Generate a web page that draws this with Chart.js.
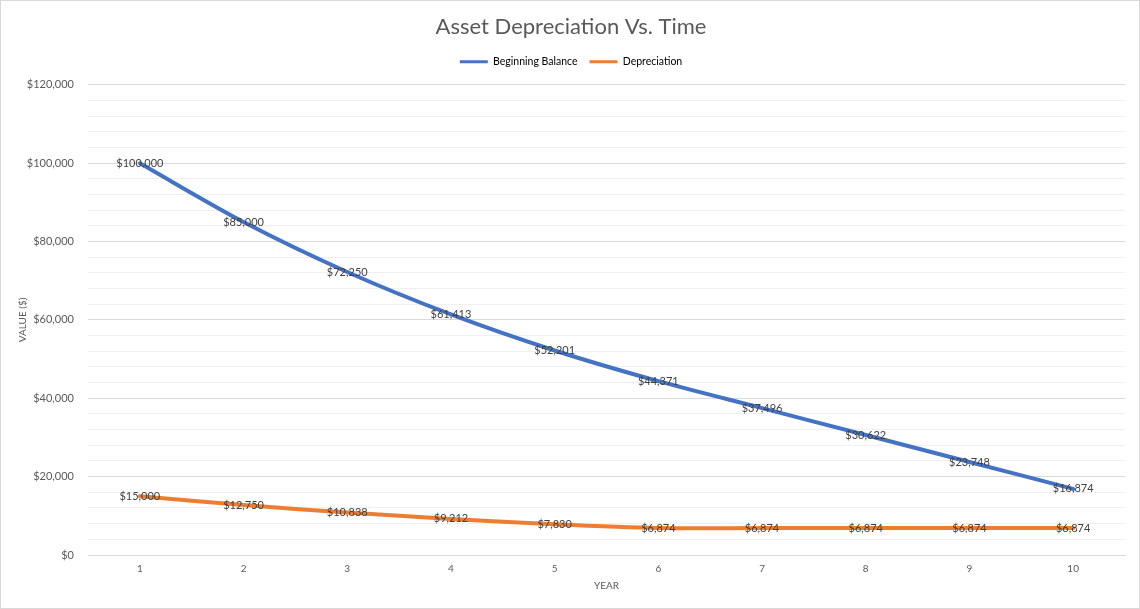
<!DOCTYPE html>
<html>
<head>
<meta charset="utf-8">
<script src="https://cdn.jsdelivr.net/npm/chart.js@4"></script>
<style>
html,body{margin:0;padding:0;background:#fff;}
#wrap{position:absolute;left:0;top:0;width:1138px;height:607px;border:1px solid #d9d9d9;}
</style>
</head>
<body>
<div id="wrap"><canvas id="c" width="1138" height="607"></canvas></div>
<script>
const years = ['1','2','3','4','5','6','7','8','9','10'];
const beginningBalance = [100000, 85000, 72250, 61413, 52201, 44371, 37496, 30622, 23748, 16874];
const depreciation = [15000, 12750, 10838, 9212, 7830, 6874, 6874, 6874, 6874, 6874];
const seriesNames = ['Beginning Balance', 'Depreciation'];
const yMin = 0, yMax = 120000, yStep = 4000, yLabelStep = 20000;

const FONT = 'Lato, "Liberation Sans", sans-serif';
const fmt = v => '$' + Math.round(v).toLocaleString('en-US');

const dataLabels = {
  id: 'dataLabels',
  afterDatasetsDraw(chart) {
    const ctx = chart.ctx;
    ctx.save();
    ctx.font = '11px ' + FONT;
    ctx.fillStyle = '#404040';
    ctx.textAlign = 'center';
    ctx.textBaseline = 'middle';
    chart.data.datasets.forEach((ds, i) => {
      const meta = chart.getDatasetMeta(i);
      meta.data.forEach((pt, j) => {
        ctx.fillText(fmt(ds.data[j]), pt.x, pt.y);
      });
    });
    ctx.restore();
  }
};

const legendMargin = {
  id: 'legendMargin',
  beforeInit(chart) {
    const orig = chart.legend.fit;
    chart.legend.fit = function () {
      orig.bind(chart.legend)();
      this.height += 8;
    };
  }
};

new Chart(document.getElementById('c'), {
  type: 'line',
  data: {
    labels: years,
    datasets: [
      { label: seriesNames[0], data: beginningBalance, borderColor: '#4472c4', backgroundColor: '#4472c4', borderWidth: 4, pointRadius: 0, tension: 0.3, borderCapStyle: 'round' },
      { label: seriesNames[1], data: depreciation, borderColor: '#ed7d31', backgroundColor: '#ed7d31', borderWidth: 4, pointRadius: 0, tension: 0.3, borderCapStyle: 'round' }
    ]
  },
  options: {
    responsive: false,
    animation: false,
    layout: { padding: { left: 16, right: 14, top: 0, bottom: 0 } },
    plugins: {
      title: { display: true, text: 'Asset Depreciation Vs. Time', color: '#595959', font: { family: FONT, size: 22, weight: 'normal' }, padding: { top: 13, bottom: 4 } },
      legend: {
        display: true,
        labels: {
          color: '#595959', font: { family: FONT, size: 10.5 },
          boxWidth: 28, boxHeight: 3, padding: 12,
          generateLabels(chart) {
            return chart.data.datasets.map((ds, i) => ({ text: ds.label, fillStyle: ds.borderColor, strokeStyle: ds.borderColor, lineWidth: 0, datasetIndex: i }));
          }
        }
      },
      tooltip: { enabled: false }
    },
    scales: {
      x: {
        offset: true,
        grid: { display: false, drawTicks: false },
        border: { display: true, color: '#d9d9d9', width: 1 },
        ticks: { color: '#595959', font: { family: FONT, size: 10 }, padding: 8 },
        title: { display: true, text: 'YEAR', color: '#595959', font: { family: FONT, size: 10 }, padding: { top: 4, bottom: 16 } },
        afterFit(s) { s.height = 53; }
      },
      y: {
        min: yMin, max: yMax,
        ticks: {
          stepSize: yStep, autoSkip: false,
          color: '#595959', font: { family: FONT, size: 11 }, padding: 14,
          callback: v => (v % yLabelStep === 0 ? fmt(v) : '')
        },
        grid: {
          drawTicks: false,
          color: c => (c.tick && c.tick.value % yLabelStep === 0 ? '#d9d9d9' : '#f0f0f0'),
          lineWidth: 1
        },
        border: { display: false },
        title: { display: true, text: 'VALUE ($)', color: '#595959', font: { family: FONT, size: 10 }, padding: { top: 0, bottom: 4 } },
        afterFit(s) { s.width = 71; }
      }
    }
  },
  plugins: [dataLabels, legendMargin]
});
</script>
</body>
</html>
